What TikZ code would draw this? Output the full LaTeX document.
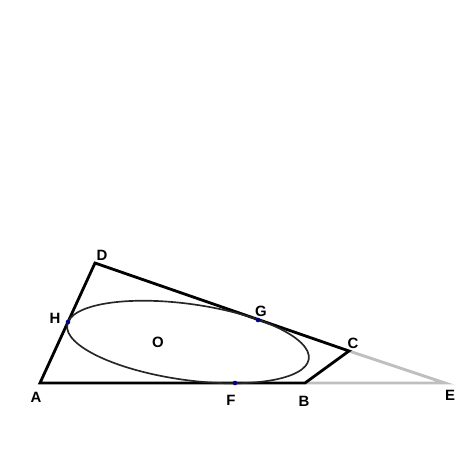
\documentclass[tikz,border=0pt]{standalone}
\usepackage{fontspec}
\setmainfont{Liberation Sans}
\usepackage{tikz}

\begin{document}
\begin{tikzpicture}[x=0.02cm,y=-0.02cm,
    lbl/.style={font=\bfseries\fontsize{8.5}{9}\selectfont},
    side/.style={line width=1.6pt},
    ext/.style={line width=1.7pt,color=black!25},
    touch/.style={circle,fill=blue!55!black,inner sep=0pt,minimum size=2.6pt}]
            \useasboundingbox (0,0) rectangle (474,474);
            \coordinate (A) at (40,383);
            \coordinate (B) at (305,383);
            \coordinate (C) at (349,351);
            \coordinate (D) at (95,263);
            \coordinate (E) at (445,383);
            \coordinate (O) at (188,342);
            \draw[ext] (B) -- (E) -- (C);
            \draw[side,line join=miter] (A) -- (B) -- (C) -- (D) -- cycle;
            \draw[line width=0.95pt,black!85,rotate around={-8:(O)}] (O) ellipse [x radius=2.44cm, y radius=0.76cm];
            \node[touch] (h) at (68,322) {};
            \node[touch] (g) at (258,320) {};
            \node[touch] (f) at (235,383) {};
            \node[lbl] at (36,397) {A};
            \node[lbl] at (304,401) {B};
            \node[lbl] at (353,343) {C};
            \node[lbl] at (102,255) {D};
            \node[lbl] at (450,395) {E};
            \node[lbl] at (231,400) {F};
            \node[lbl] at (261,311) {G};
            \node[lbl] at (55,318) {H};
            \node[lbl] at (158,342) {O};
        \end{tikzpicture}
\end{document}
